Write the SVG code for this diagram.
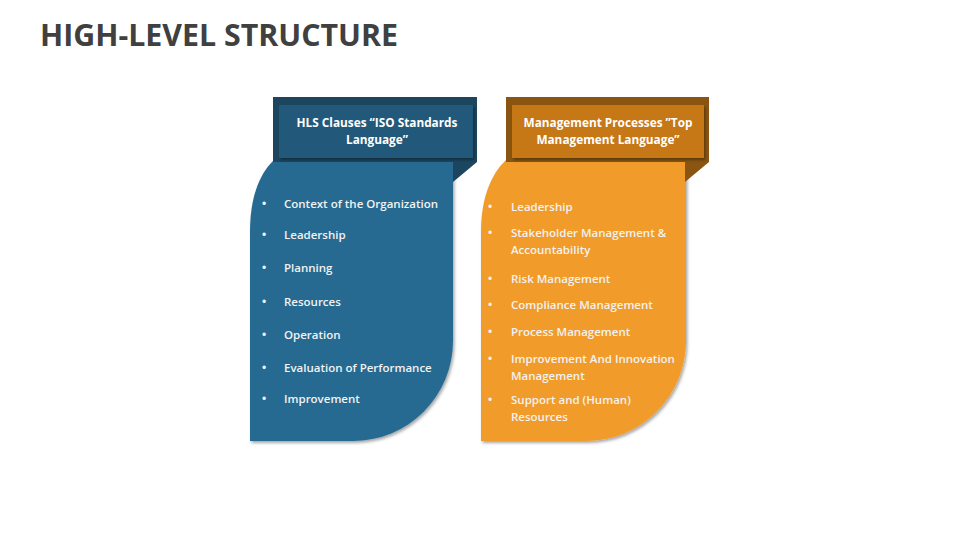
<svg xmlns="http://www.w3.org/2000/svg" width="960" height="540" viewBox="0 0 960 540">
<defs>
<filter id="sh" x="-10%" y="-10%" width="130%" height="130%">
<feDropShadow dx="1.5" dy="2" stdDeviation="1.5" flood-color="#000" flood-opacity="0.35"/>
</filter>
<style>
.title{font-family:"Open Sans","Liberation Sans",sans-serif;font-weight:700;font-size:31px;fill:#404040}
.hd{font-family:"Open Sans","Liberation Sans",sans-serif;font-weight:700;font-size:11.8px;fill:#ffffff;text-anchor:middle}
.it{font-family:"Open Sans","Liberation Sans",sans-serif;font-weight:600;font-size:11.5px;fill:#f2f2f2}
.bl{font-family:"Liberation Sans",sans-serif;font-size:12px;fill:#f2f2f2}
</style>
</defs>
<rect width="960" height="540" fill="#ffffff"/>
<text class="title" x="40" y="46" textLength="358" lengthAdjust="spacingAndGlyphs">HIGH-LEVEL STRUCTURE</text>

<g id="node-hls">
<path d="M274,160 C258,175 250,200 250,232 L250,441 L353,441 A100,100 0 0 0 453,341 L453,160 Z" fill="#286a91" filter="url(#sh)"/>
<polygon points="453,162 477,162 453,182" fill="#1c4660"/>
<rect x="273" y="97" width="204" height="65" fill="#1c4660"/>
<rect x="279" y="105" width="194" height="53" fill="#21587a" filter="url(#sh)"/>
<text class="hd" x="377" y="127">HLS Clauses “ISO Standards</text>
<text class="hd" x="377" y="144">Language”</text>
<g>
<text class="bl" x="262" y="208">•</text><text class="it" x="284" y="208">Context of the Organization</text>
<text class="bl" x="262" y="239">•</text><text class="it" x="284" y="239">Leadership</text>
<text class="bl" x="262" y="272">•</text><text class="it" x="284" y="272">Planning</text>
<text class="bl" x="262" y="306">•</text><text class="it" x="284" y="306">Resources</text>
<text class="bl" x="262" y="339">•</text><text class="it" x="284" y="339">Operation</text>
<text class="bl" x="262" y="372">•</text><text class="it" x="284" y="372">Evaluation of Performance</text>
<text class="bl" x="262" y="403">•</text><text class="it" x="284" y="403">Improvement</text>
</g>
</g>

<g id="node-mgmt">
<path d="M506,160 C490,175 481,200 481,232 L481,441 L586,441 A100,100 0 0 0 686,341 L686,160 Z" fill="#f19b2b" filter="url(#sh)"/>
<polygon points="685,162 709,162 685,182" fill="#8a5511"/>
<rect x="506" y="97" width="203" height="65" fill="#8a5511"/>
<rect x="512" y="105" width="192" height="53" fill="#c67712" filter="url(#sh)"/>
<text class="hd" x="608" y="127">Management Processes ”Top</text>
<text class="hd" x="608" y="144">Management Language”</text>
<g>
<text class="bl" x="488" y="211">•</text><text class="it" x="511" y="211">Leadership</text>
<text class="bl" x="488" y="237">•</text><text class="it" x="511" y="237">Stakeholder Management &amp;</text>
<text class="it" x="511" y="254">Accountability</text>
<text class="bl" x="488" y="283">•</text><text class="it" x="511" y="283">Risk Management</text>
<text class="bl" x="488" y="309">•</text><text class="it" x="511" y="309">Compliance Management</text>
<text class="bl" x="488" y="336">•</text><text class="it" x="511" y="336">Process Management</text>
<text class="bl" x="488" y="363">•</text><text class="it" x="511" y="363">Improvement And Innovation</text>
<text class="it" x="511" y="380">Management</text>
<text class="bl" x="488" y="404">•</text><text class="it" x="511" y="404">Support and (Human)</text>
<text class="it" x="511" y="421">Resources</text>
</g>
</g>
<g id="connectors"/>
</svg>
